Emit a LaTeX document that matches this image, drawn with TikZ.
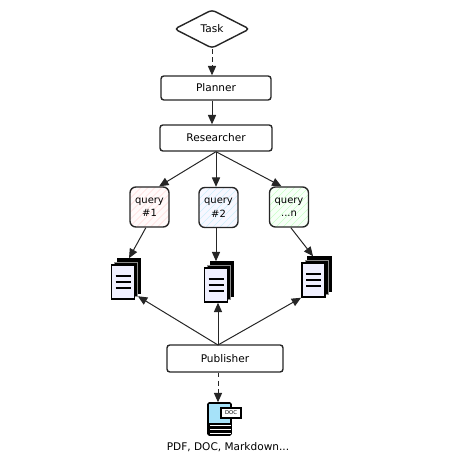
\documentclass[tikz,border=0pt]{standalone}
\usepackage{fontspec}
\setmainfont{DejaVu Sans}
\usetikzlibrary{arrows.meta,shapes.geometric}
\tikzset{
  sketch/.style={draw=black!85,line width=1.2pt,rounded corners=2.5pt,align=center,font=\fontsize{9}{11}\selectfont},
  stepbox/.style={sketch,minimum height=0.75cm,inner sep=0pt},
  querybox/.style={sketch,rounded corners=5pt,minimum width=1.17cm,minimum height=1.2cm,inner sep=0pt,font=\fontsize{8.5}{11.5}\selectfont},
  hatched/.style={path picture={
    \foreach \k in {-6,...,6}
      \draw[#1,line width=0.6pt] ([shift={(\k*7-20,20)}]path picture bounding box.center) -- ++(40,-40);
  }},
  sheet/.style={draw=black,line width=1.3pt,minimum width=0.7cm,minimum height=1.02cm,inner sep=0pt},
  flow/.style={draw=black!85,line width=0.85pt,-{Triangle[length=8pt,width=7pt]}},
  flowdash/.style={flow,dash pattern=on 4pt off 3pt},
}
\begin{document}
\begin{tikzpicture}[x=0.03cm,y=-0.03cm]
\useasboundingbox (0,0) rectangle (474,458);
% steps
\node[sketch,shape=diamond,aspect=2,inner sep=0pt,rounded corners=3pt,minimum width=2.26cm,minimum height=1.16cm] (task) at (212,29) {Task};
\node[stepbox,minimum width=3.3cm,minimum height=0.72cm] (planner) at (216,88) {Planner};
\node[stepbox,minimum width=3.36cm,minimum height=0.78cm] (researcher) at (216,138) {Researcher};
\node[stepbox,minimum width=3.48cm,minimum height=0.81cm] (publisher) at (225,358.5) {Publisher};
% queries
\node[querybox,fill=red!2,hatched=red!14] (query1) at (149.5,207) {query\\\#1};
\node[querybox,fill=blue!3,hatched=cyan!20] (query2) at (218.5,207.5) {query\\\#2};
\node[querybox,fill=green!3,hatched=green!22] (query3) at (289,207) {query\\...n};
% documents
\foreach \name/\x/\y in {1/123/282,2/216/285,3/313.5/280}{
  \node[sheet,fill=black] (back\name) at (\x+6,\y-6) {};
  \node[sheet,fill=black,draw=black!45,line width=0.4pt] (mid\name) at (\x+3,\y-3) {};
  \node[sheet,fill=blue!6] (doc\name) at (\x,\y) {};
  \foreach \dy in {-6,0,6}
    \draw[line width=1.7pt] (\x-7.5,\y+\dy) -- (\x+7.5,\y+\dy);
}
% output file
\node[draw=black,line width=1.3pt,rounded corners=1pt,fill=cyan!35,minimum width=0.69cm,minimum height=0.96cm,inner sep=0pt] (output) at (219.5,419) {};
\fill[black] (208,423) rectangle (231,435);
\foreach \y in {425,429,433}
  \draw[white,line width=0.5pt] (210,\y) -- (231,\y);
\node[draw=black,line width=1.2pt,fill=white,minimum width=0.6cm,minimum height=0.3cm,inner sep=0pt,font=\fontsize{4.5}{5}\selectfont] (doclabel) at (231,413) {DOC};
\node[font=\fontsize{9}{11}\selectfont,inner sep=0pt] (formats) at (228,447) {PDF, DOC, Markdown...};
% connectors
\draw[flowdash] (task) -- (task |- planner.north);
\draw[flow] (planner.south -| task) -- (researcher.north -| task);
\draw[flow] (researcher.south) -- (query1.65);
\draw[flow] (researcher.south) -- (query2.north -| researcher);
\draw[flow] (researcher.south) -- (query3.110);
\draw[flow] (query1.-100) -- (back1.north);
\draw[flow] (query2.south -| doc2) -- (doc2 |- back2.north);
\draw[flow] (query3.-85) -- (back3.110);
\coordinate (pubtop) at (218,345);
\draw[flow] (pubtop) -- (mid1.south east);
\draw[flow] (pubtop) -- (doc2.south -| pubtop);
\draw[flow] (pubtop) -- (doc3.south west);
\draw[flowdash] (pubtop |- publisher.south) -- (pubtop |- output.north);
\end{tikzpicture}
\end{document}
